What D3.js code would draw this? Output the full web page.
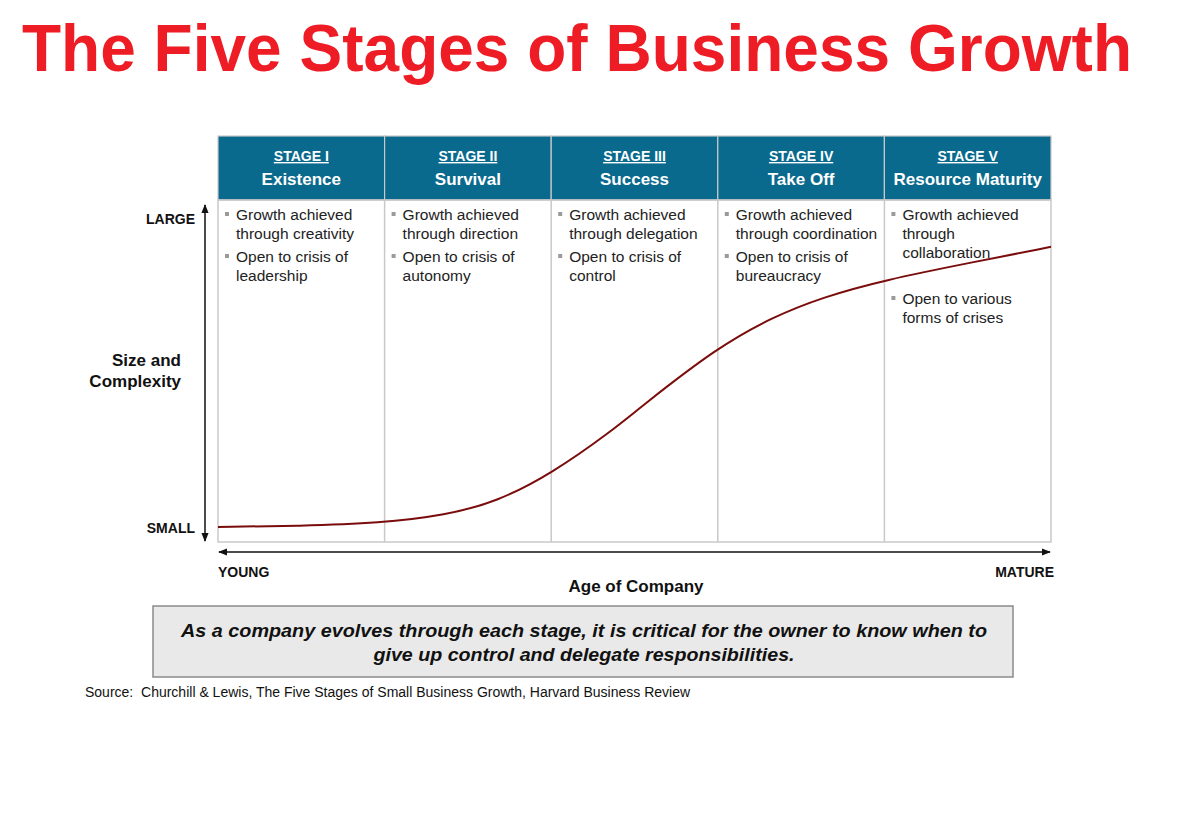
<!DOCTYPE html>
<html><head><meta charset="utf-8">
<script src="https://cdn.jsdelivr.net/npm/d3@7"></script>
<style>
html,body{margin:0;padding:0;background:#fff;}
text{font-family:"Liberation Sans",Arial,sans-serif;}
</style></head>
<body><svg id="c" width="1200" height="819"></svg>
<script>
const title = "The Five Stages of Business Growth";
const stageLabels = ["STAGE I","STAGE II","STAGE III","STAGE IV","STAGE V"];
const stageNames = ["Existence","Survival","Success","Take Off","Resource Maturity"];
const stageBullets = [
  [["Growth achieved","through creativity"],["Open to crisis of","leadership"]],
  [["Growth achieved","through direction"],["Open to crisis of","autonomy"]],
  [["Growth achieved","through delegation"],["Open to crisis of","control"]],
  [["Growth achieved","through coordination"],["Open to crisis of","bureaucracy"]],
  [["Growth achieved","through","collaboration"],["Open to various","forms of crises"]]
];
// curve: age (stage units 0..5) vs size (0..100)
const curveAge  = [0, 0.49, 0.97, 1.37, 1.67, 2.0, 2.37, 2.53, 3.0, 3.33, 3.63, 4.0, 4.53, 5.0];
const curveSize = [4.4, 4.7, 5.5, 7.9, 11.7, 19.9, 32.7, 39.2, 57.0, 65.8, 71.6, 76.6, 81.8, 86.3];
const yAxisLabels = ["LARGE","SMALL"];
const xAxisLabels = ["YOUNG","MATURE"];
const xTitle = "Age of Company";
const yTitle = ["Size and","Complexity"];
const note = ["As a company evolves through each stage, it is critical for the owner to know when to","give up control and delegate responsibilities."];
const source = "Source:  Churchill & Lewis, The Five Stages of Small Business Growth, Harvard Business Review";

const svg = d3.select("#c");
const L=218, R=1051, T=136, HB=200, B=542;
const x = d3.scaleLinear().domain([0,5]).range([L,R]);
const y = d3.scaleLinear().domain([0,100]).range([B,HB]);

svg.append("text").attr("x",22).attr("y",71).attr("fill","#ee1c25")
  .attr("font-size",66).attr("font-weight","bold")
  .attr("textLength",1110).attr("lengthAdjust","spacingAndGlyphs").text(title);

const defs = svg.append("defs");
defs.append("marker").attr("id","ah").attr("viewBox","0 0 10 10").attr("refX",9).attr("refY",5)
  .attr("markerWidth",9).attr("markerHeight",9).attr("markerUnits","userSpaceOnUse").attr("orient","auto-start-reverse")
  .append("path").attr("d","M0,1 L10,5 L0,9 Z").attr("fill","#111");

// header cells
const idx = d3.range(5);
svg.selectAll("rect.hdr").data(idx).join("rect").attr("class","hdr")
  .attr("x",d=>x(d)).attr("y",T).attr("width",x(1)-x(0)).attr("height",HB-T)
  .attr("fill","#0a6a8d").attr("stroke","#c9c9c9").attr("stroke-width",1.2);
// body outline
svg.append("rect").attr("x",L).attr("y",HB).attr("width",R-L).attr("height",B-HB)
  .attr("fill","none").attr("stroke","#c9c9c9").attr("stroke-width",1.5);
svg.selectAll("line.sep").data(d3.range(1,5)).join("line")
  .attr("x1",d=>x(d)).attr("x2",d=>x(d)).attr("y1",HB).attr("y2",B)
  .attr("stroke","#c9c9c9").attr("stroke-width",1.5);

svg.selectAll("text.sl").data(stageLabels).join("text").attr("class","sl")
  .attr("x",(d,i)=>x(i+0.5)).attr("y",161).attr("text-anchor","middle").attr("fill","#fff")
  .attr("font-size",14).attr("font-weight","bold").attr("text-decoration","underline").text(d=>d);
svg.selectAll("text.sn").data(stageNames).join("text").attr("class","sn")
  .attr("x",(d,i)=>x(i+0.5)).attr("y",185).attr("text-anchor","middle").attr("fill","#fff")
  .attr("font-size",17).attr("font-weight","bold").text(d=>d);

// bullets
const lh = 19;
stageBullets.forEach((bl,i)=>{
  let yy = 220;
  bl.forEach((lines,j)=>{
    if(i===4 && j===1) yy = 304;
    svg.append("rect").attr("x",x(i)+7).attr("y",yy-8).attr("width",4).attr("height",4).attr("fill","#9a9a9a");
    lines.forEach((t,k)=>{
      svg.append("text").attr("x",x(i)+18).attr("y",yy+k*lh).attr("font-size",15.5).attr("fill","#222").text(t);
    });
    yy += lines.length*lh + 4;
  });
});

// curve
const line = d3.line().x((d,i)=>x(curveAge[i])).y(d=>y(d)).curve(d3.curveBasis);
svg.append("path").datum(curveSize).attr("d",line).attr("fill","none")
  .attr("stroke","#7a0c0c").attr("stroke-width",2);

// axes arrows
svg.append("line").attr("x1",205).attr("x2",205).attr("y1",205).attr("y2",541)
  .attr("stroke","#111").attr("stroke-width",1.5)
  .attr("marker-start","url(#ah)").attr("marker-end","url(#ah)");
svg.append("line").attr("x1",219).attr("x2",1050).attr("y1",552).attr("y2",552)
  .attr("stroke","#111").attr("stroke-width",1.5)
  .attr("marker-start","url(#ah)").attr("marker-end","url(#ah)");

const lab = (tx,ty,anchor,size,t)=>svg.append("text").attr("x",tx).attr("y",ty).attr("text-anchor",anchor)
  .attr("font-size",size).attr("font-weight","bold").attr("fill","#111").text(t);
lab(195,224,"end",14,yAxisLabels[0]);
lab(195,533,"end",14,yAxisLabels[1]);
lab(218,577,"start",14,xAxisLabels[0]);
lab(1054,577,"end",14,xAxisLabels[1]);
lab(636,592,"middle",17,xTitle);
yTitle.forEach((t,i)=>lab(181,366+i*21,"end",17,t));

// note box
svg.append("rect").attr("x",153).attr("y",606).attr("width",860).attr("height",71)
  .attr("fill","#e9e9e9").attr("stroke","#8a8a8a").attr("stroke-width",1.5);
const noteW = [806, 421];
note.forEach((t,i)=>svg.append("text").attr("x",584).attr("y",637+i*24).attr("text-anchor","middle")
  .attr("font-size",19).attr("font-weight","bold").attr("font-style","italic").attr("fill","#111")
  .attr("textLength",noteW[i]).attr("lengthAdjust","spacingAndGlyphs").text(t));
svg.append("text").attr("x",85).attr("y",697).attr("font-size",14).attr("fill","#111")
  .style("white-space","pre").text(source);
</script></body></html>
